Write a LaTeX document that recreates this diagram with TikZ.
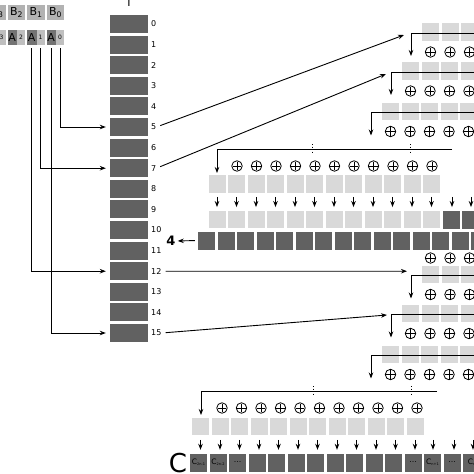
\documentclass[tikz,border=0pt]{standalone}
\usepackage{fontspec}
\setmainfont{DejaVu Sans}
\usepackage{tikz}
\usetikzlibrary{arrows.meta,positioning}
\tikzstyle{tcell} = [rectangle, fill=black!62, minimum width=38pt, minimum height=18pt, inner sep=0pt]
\tikzstyle{lbox} = [rectangle, fill=black!15, minimum width=17pt, minimum height=17.5pt, inner sep=0pt]
\tikzstyle{dbox} = [rectangle, fill=black!62, minimum width=17pt, minimum height=18pt, inner sep=0pt, font=\fontsize{7.5}{8}\selectfont]
\tikzstyle{bbox} = [rectangle, fill=black!30, minimum width=17.5pt, minimum height=15pt, inner sep=0pt, font=\fontsize{11}{12}\selectfont]
\tikzstyle{abox} = [rectangle, fill=black!55, minimum width=9.5pt, minimum height=15pt, inner sep=0pt, font=\fontsize{11}{12}\selectfont]
\tikzstyle{asub} = [rectangle, fill=black!25, minimum width=8pt, minimum height=15pt, inner sep=0pt, font=\fontsize{6}{7}\selectfont]
\tikzstyle{xorop} = [circle, draw, line width=0.8pt, minimum size=10.5pt, inner sep=0pt, path picture={\draw[line width=0.8pt] ([yshift=-1pt]path picture bounding box.north) -- ([yshift=1pt]path picture bounding box.south) ([xshift=1pt]path picture bounding box.west) -- ([xshift=-1pt]path picture bounding box.east);}]
\tikzstyle{idx} = [anchor=west, inner sep=0pt, font=\fontsize{8}{9}\selectfont]
\tikzstyle{wire} = [line width=0.9pt]
\tikzstyle{arr} = [wire, -{Stealth[length=6pt,width=4.5pt]}]
\tikzstyle{skipmark} = [line width=0.8pt, dash pattern=on 1pt off 1.5pt]
\newcommand\cpart[1]{C\raisebox{-1pt}{\fontsize{3.5}{4}\selectfont #1}}

\begin{document}
\begin{tikzpicture}[x=1pt, y=-1pt]
	\useasboundingbox (0,0) rectangle (474,474);
	% table T
	\node[anchor=south, inner sep=0pt, font=\fontsize{11}{12}\selectfont] (tlab) at (129,7) {T};
	\foreach \i in {0,...,15} {
		\node[tcell] (t\i) at (129,24+20.6*\i) {};
		\node[idx] (n\i) at (151,24+20.6*\i) {\i};
	}
	% operands
	\foreach \k in {0,...,3} {
		\node[bbox] (b\k) at (55.5-19.5*\k,12.5) {B\textsubscript{\k}};
		\node[abox] (a\k) at (51.25-19.5*\k,37.5) {A};
		\node[asub] (a\k s) at (60-19.5*\k,37.5) {\k};
	}
	\draw[arr, shorten <=3pt, shorten >=4pt] (a0s.south) |- (t5.west);
	\draw[arr, shorten <=3pt, shorten >=4pt] (a1s.south) |- (t7.west);
	\draw[arr, shorten <=3pt, shorten >=4pt] (a1.south) |- (t12.west);
	\draw[arr, shorten <=3pt, shorten >=4pt] (a0.south) |- (t15.west);

	% staircase stages
	\foreach \yr/\xs/\n/\nm in {32/422/3/u1, 71/402/4/u2, 111.5/382/5/u3, 274.5/422/3/v1, 313.5/402/4/v2, 354.5/382/5/v3} {
		\foreach \j in {1,...,\n}
			\node[lbox] (\nm-\j) at (\xs+8.5+19.5*\j-19.5,\yr) {};
		\coordinate (\nm e) at (480,\yr+1);
		\coordinate (\nm d) at (\xs-11,\yr+24);
		\draw[arr] (\nm e) -| (\nm d);
		\foreach \j in {1,...,\n}
			\node[xorop] (\nm x\j) at (\xs+8.5+19.5*\j-19.5,\yr+20) {};
	}
	\foreach \j in {1,2,3}
		\node[xorop] (vt\j) at (v1-\j |- 0,258) {};

	% arrows out of T
	\coordinate (s1) at (404,35);
	\coordinate (s2) at (386,74);
	\coordinate (s3) at (407,271.2);
	\coordinate (s4) at (387,315);
	\draw[arr, shorten <=4pt] (n5.east) -- (s1);
	\draw[arr, shorten <=4pt] (n7.east) -- (s2);
	\draw[arr, shorten <=4pt] (n12.east) -- (s3);
	\draw[arr, shorten <=4pt] (n15.east) -- (s4);

	% middle block
	\coordinate (me) at (452,149);
	\coordinate (md) at (217,173);
	\draw[arr] (me) -| (md);
	\draw[skipmark] (312,144) -- (312,154);
	\draw[skipmark] (410,144) -- (410,154);
	\foreach \j in {0,...,10}
		\node[xorop] (mx\j) at (237+19.5*\j,166) {};
	\foreach \j in {0,...,11} {
		\node[lbox] (m\j) at (217+19.5*\j,184) {};
		\node[lbox] (p\j) at (217+19.5*\j,219.5) {};
	}
	\coordinate (m12) at (452,192.75);
	\coordinate (m13) at (471,192.75);
	\node[dbox] (p12) at (451,219.5) {};
	\node[dbox] (p13) at (470.5,219.5) {};
	\foreach \j in {0,...,13}
		\draw[arr, shorten <=4pt, shorten >=3.5pt] (m\j |- m0.south) -- (m\j |- p0.north);
	\foreach \j in {0,...,14}
		\node[dbox] (d\j) at (206.5+19.5*\j,240.5) {};
	\node[font=\bfseries\fontsize{13}{14}\selectfont, inner sep=0pt] (four) at (171,241) {4};
	\draw[arr, shorten <=3pt, shorten >=2pt] (d0.west) -- (four.east);

	% bottom block
	\coordinate (ce) at (437,391);
	\coordinate (cd) at (201,415);
	\draw[arr] (ce) -| (cd);
	\draw[skipmark] (313,386) -- (313,396);
	\draw[skipmark] (411,386) -- (411,396);
	\foreach \j in {0,...,10}
		\node[xorop] (qx\j) at (222+19.5*\j,408) {};
	\foreach \j in {0,...,11}
		\node[lbox] (q\j) at (200.5+19.5*\j,426.5) {};
	\coordinate (q12) at (433,435.25);
	\coordinate (q13) at (454,435.25);
	\coordinate (q14) at (473,435.25);
	\foreach \j/\lab in {0/\cpart{2n-1}, 1/\cpart{2n-2}, 2/\dots, 3/, 4/, 5/, 6/, 7/, 8/, 9/, 10/, 11/\dots, 12/\cpart{n+1}, 13/\dots, 14/\cpart{n}}
		\node[dbox] (r\j) at (198.5+19.5*\j,462.5) {\lab};
	\foreach \j in {0,...,14}
		\draw[arr, shorten <=4.5pt, shorten >=3.5pt] (q\j |- q0.south) -- (q\j |- r0.north);
	\node[font=\fontsize{26}{28}\selectfont, inner sep=0pt] (cbig) at (178,463) {C};
\end{tikzpicture}
\end{document}
